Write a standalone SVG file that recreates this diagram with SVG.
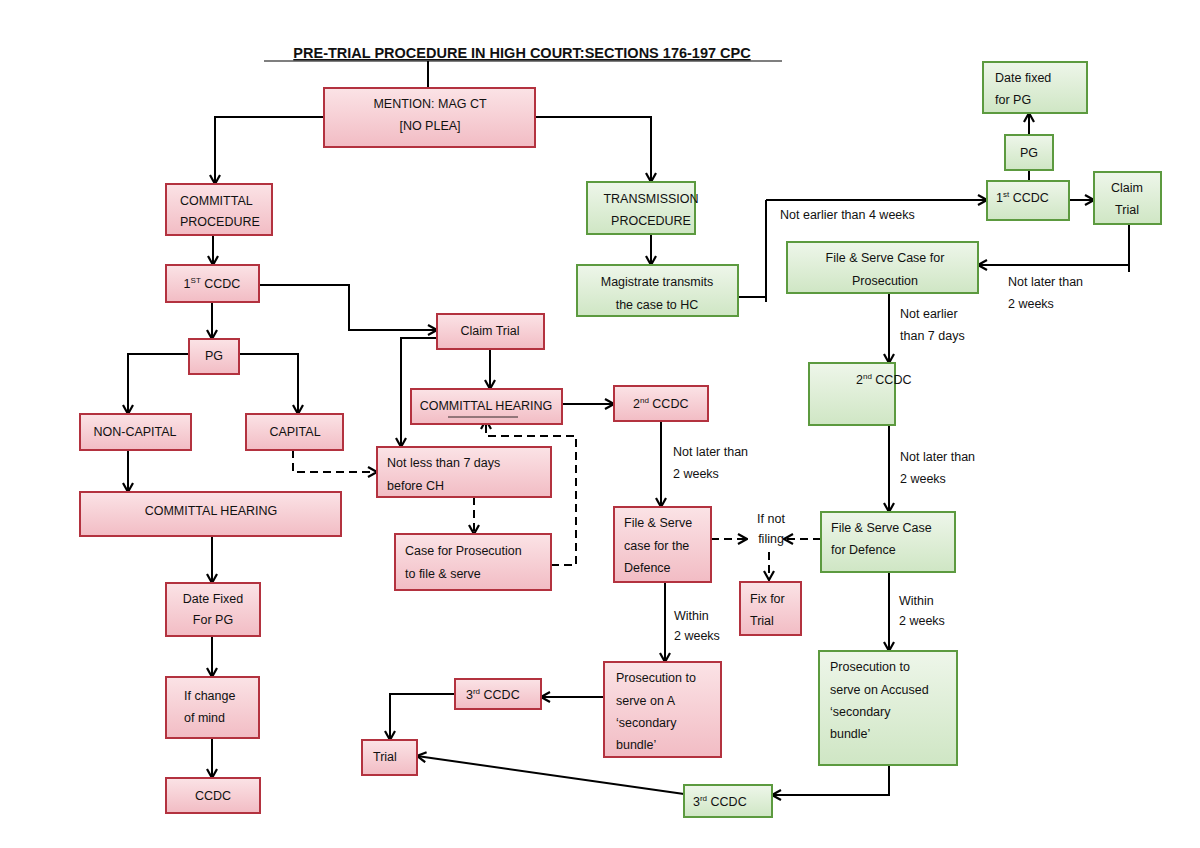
<svg xmlns="http://www.w3.org/2000/svg" width="1200" height="848" viewBox="0 0 1200 848">
<defs>
<linearGradient id="gp" x1="0" y1="0" x2="0" y2="1"><stop offset="0" stop-color="#fbe3e6"/><stop offset="1" stop-color="#f2bcc4"/></linearGradient>
<linearGradient id="gg" x1="0" y1="0" x2="0" y2="1"><stop offset="0" stop-color="#eef6ea"/><stop offset="1" stop-color="#cfe6c4"/></linearGradient>
<marker id="a" viewBox="0 0 12 12" refX="11" refY="6" markerWidth="12" markerHeight="12" markerUnits="userSpaceOnUse" orient="auto"><path d="M2,1 L11,6 L2,11" fill="none" stroke="#000" stroke-width="2.2"/></marker>
</defs>
<style>
.p{fill:url(#gp);stroke:#b3323f;stroke-width:2}
.g{fill:url(#gg);stroke:#5c9a3f;stroke-width:2}
text{font-family:"Liberation Sans",Arial,sans-serif;font-size:12.5px;fill:#111}
.c{text-anchor:middle}
.l{fill:none;stroke:#000;stroke-width:2}
.d{stroke-dasharray:8,5}
.m{marker-end:url(#a)}
</style>
<rect width="1200" height="848" fill="#fff"/>
<text x="522" y="58" class="c" style="font-weight:bold;font-size:14.5px;text-decoration:underline">PRE-TRIAL PROCEDURE IN HIGH COURT:SECTIONS 176-197 CPC</text>
<line x1="264" y1="61" x2="782" y2="61" stroke="#000" stroke-width="1.2"/>
<g id="connectors">
<path class="l" d="M428,61V88"/>
<path class="l m" d="M324,117H215V184"/>
<path class="l m" d="M535,117H651V182"/>
<path class="l m" d="M213,235V265"/>
<path class="l m" d="M212,302V339"/>
<path class="l m" d="M259,285H349V330H437"/>
<path class="l m" d="M189,354H128V414"/>
<path class="l m" d="M239,354H298V414"/>
<path class="l m" d="M128,450V492"/>
<path class="l d m" d="M293,450V472H377"/>
<path class="l m" d="M212,536V583"/>
<path class="l m" d="M212,636V677"/>
<path class="l m" d="M212,738V778"/>
<path class="l m" d="M490,349V389"/>
<path class="l m" d="M437,338H401V447"/>
<path class="l m" d="M562,404H614"/>
<path class="l d m" d="M474,497V534"/>
<path class="l d m" d="M551,565H576V436H486V420"/>
<path class="l m" d="M661,421V507"/>
<path class="l d m" d="M711,539H747"/>
<path class="l d m" d="M821,539H784"/>
<path class="l d m" d="M769,552V580"/>
<path class="l m" d="M665,582V662"/>
<path class="l m" d="M604,697H541"/>
<path class="l m" d="M455,694H390V740"/>
<path class="l m" d="M684,794L417,756"/>
<path class="l m" d="M651,234V265"/>
<path class="l" d="M738,297H766"/>
<path class="l" d="M766,302V200"/>
<path class="l m" d="M766,200H987"/>
<path class="l" d="M1029,181V170"/>
<path class="l m" d="M1029,135V113"/>
<path class="l m" d="M1069,200H1094"/>
<path class="l" d="M1129,224V272"/>
<path class="l m" d="M1129,265H978"/>
<path class="l m" d="M889,293V363"/>
<path class="l m" d="M889,425V512"/>
<path class="l m" d="M889,572V651"/>
<path class="l m" d="M889,752V795H772"/>
</g>
<g id="labels">
<text x="780" y="219">Not earlier than 4 weeks</text>
<text x="1008" y="286">Not later than</text><text x="1008" y="308">2 weeks</text>
<text x="900" y="318">Not earlier</text><text x="900" y="340">than 7 days</text>
<text x="900" y="461">Not later than</text><text x="900" y="483">2 weeks</text>
<text x="899" y="605">Within</text><text x="899" y="625">2 weeks</text>
<text x="673" y="456">Not later than</text><text x="673" y="478">2 weeks</text>
<text x="674" y="620">Within</text><text x="674" y="640">2 weeks</text>
<text x="771" y="523" class="c">If not</text><text x="771" y="543" class="c">filing</text>
</g>
<g id="mention"><rect class="p" x="324" y="88" width="211" height="59"/><text x="430" y="108" class="c">MENTION: MAG CT</text><text x="430" y="130" class="c">[NO PLEA]</text></g>
<g id="committal-procedure"><rect class="p" x="166" y="184" width="106" height="51"/><text x="180" y="205">COMMITTAL</text><text x="180" y="226">PROCEDURE</text></g>
<g id="ccdc1"><rect class="p" x="166" y="265" width="93" height="37"/><text x="212" y="288" class="c">1<tspan dy="-5" font-size="8">ST</tspan><tspan dy="5"> CCDC</tspan></text></g>
<g id="pg"><rect class="p" x="189" y="339" width="50" height="35"/><text x="214" y="360" class="c">PG</text></g>
<g id="noncapital"><rect class="p" x="80" y="414" width="111" height="36"/><text x="135" y="436" class="c">NON-CAPITAL</text></g>
<g id="capital"><rect class="p" x="246" y="414" width="97" height="36"/><text x="295" y="436" class="c">CAPITAL</text></g>
<g id="committal-hearing-left"><rect class="p" x="80" y="492" width="261" height="44"/><text x="211" y="515" class="c">COMMITTAL HEARING</text></g>
<g id="date-fixed-pg"><rect class="p" x="166" y="583" width="94" height="53"/><text x="213" y="603" class="c">Date Fixed</text><text x="213" y="624" class="c">For PG</text></g>
<g id="change-mind"><rect class="p" x="166" y="677" width="93" height="61"/><text x="184" y="700">If change</text><text x="184" y="722">of mind</text></g>
<g id="ccdc-left"><rect class="p" x="166" y="778" width="94" height="35"/><text x="213" y="800" class="c">CCDC</text></g>
<g id="claim-trial"><rect class="p" x="437" y="314" width="107" height="35"/><text x="490" y="335" class="c">Claim Trial</text></g>
<g id="committal-hearing-mid"><rect class="p" x="411" y="389" width="151" height="35"/><text x="486" y="410" class="c">COMMITTAL HEARING</text><line x1="448" y1="417" x2="518" y2="417" stroke="#000" stroke-width="0.8"/></g>
<g id="ccdc2-red"><rect class="p" x="614" y="386" width="94" height="35"/><text x="633" y="408">2<tspan dy="-5" font-size="8">nd</tspan><tspan dy="5"> CCDC</tspan></text></g>
<g id="not-less"><rect class="p" x="377" y="447" width="174" height="50"/><text x="387" y="467">Not less than 7 days</text><text x="387" y="490">before CH</text></g>
<g id="case-prosecution"><rect class="p" x="395" y="534" width="156" height="56"/><text x="405" y="555">Case for Prosecution</text><text x="405" y="578">to file &amp; serve</text></g>
<g id="fs-defence-red"><rect class="p" x="614" y="507" width="97" height="75"/><text x="624" y="527">File &amp; Serve</text><text x="624" y="550">case for the</text><text x="624" y="572">Defence</text></g>
<g id="fix-trial"><rect class="p" x="740" y="582" width="61" height="53"/><text x="750" y="603">Fix for</text><text x="750" y="625">Trial</text></g>
<g id="pros-serve-a"><rect class="p" x="604" y="662" width="117" height="95"/><text x="616" y="682">Prosecution to</text><text x="616" y="705">serve on A</text><text x="616" y="727">‘secondary</text><text x="616" y="749">bundle’</text></g>
<g id="ccdc3-red"><rect class="p" x="455" y="679" width="86" height="30"/><text x="466" y="699">3<tspan dy="-5" font-size="8">rd</tspan><tspan dy="5"> CCDC</tspan></text></g>
<g id="trial"><rect class="p" x="362" y="740" width="55" height="35"/><text x="373" y="761">Trial</text></g>
<g id="ccdc3-green"><rect class="g" x="684" y="785" width="88" height="32"/><text x="693" y="806">3<tspan dy="-5" font-size="8">rd</tspan><tspan dy="5"> CCDC</tspan></text></g>
<g id="transmission"><rect class="g" x="587" y="182" width="108" height="52"/><text x="651" y="203" class="c">TRANSMISSION</text><text x="651" y="225" class="c">PROCEDURE</text></g>
<g id="magistrate"><rect class="g" x="577" y="265" width="161" height="51"/><text x="657" y="286" class="c">Magistrate transmits</text><text x="657" y="309" class="c">the case to HC</text></g>
<g id="date-fixed-green"><rect class="g" x="983" y="62" width="104" height="51"/><text x="995" y="82">Date fixed</text><text x="995" y="104">for PG</text></g>
<g id="pg-green"><rect class="g" x="1005" y="135" width="48" height="35"/><text x="1029" y="157" class="c">PG</text></g>
<g id="ccdc1-green"><rect class="g" x="987" y="181" width="82" height="39"/><text x="996" y="202">1<tspan dy="-5" font-size="8">st</tspan><tspan dy="5"> CCDC</tspan></text></g>
<g id="claim-trial-green"><rect class="g" x="1094" y="172" width="67" height="52"/><text x="1127" y="192" class="c">Claim</text><text x="1127" y="214" class="c">Trial</text></g>
<g id="fs-prosecution"><rect class="g" x="787" y="242" width="191" height="51"/><text x="885" y="262" class="c">File &amp; Serve Case for</text><text x="885" y="285" class="c">Prosecution</text></g>
<g id="ccdc2-green"><rect class="g" x="809" y="363" width="86" height="62"/><text x="856" y="384">2<tspan dy="-5" font-size="8">nd</tspan><tspan dy="5"> CCDC</tspan></text></g>
<g id="fs-defence-green"><rect class="g" x="821" y="512" width="134" height="60"/><text x="831" y="532">File &amp; Serve Case</text><text x="831" y="554">for Defence</text></g>
<g id="pros-serve-accused"><rect class="g" x="819" y="651" width="138" height="114"/><text x="830" y="671">Prosecution to</text><text x="830" y="694">serve on Accused</text><text x="830" y="716">‘secondary</text><text x="830" y="738">bundle’</text></g>
</svg>
